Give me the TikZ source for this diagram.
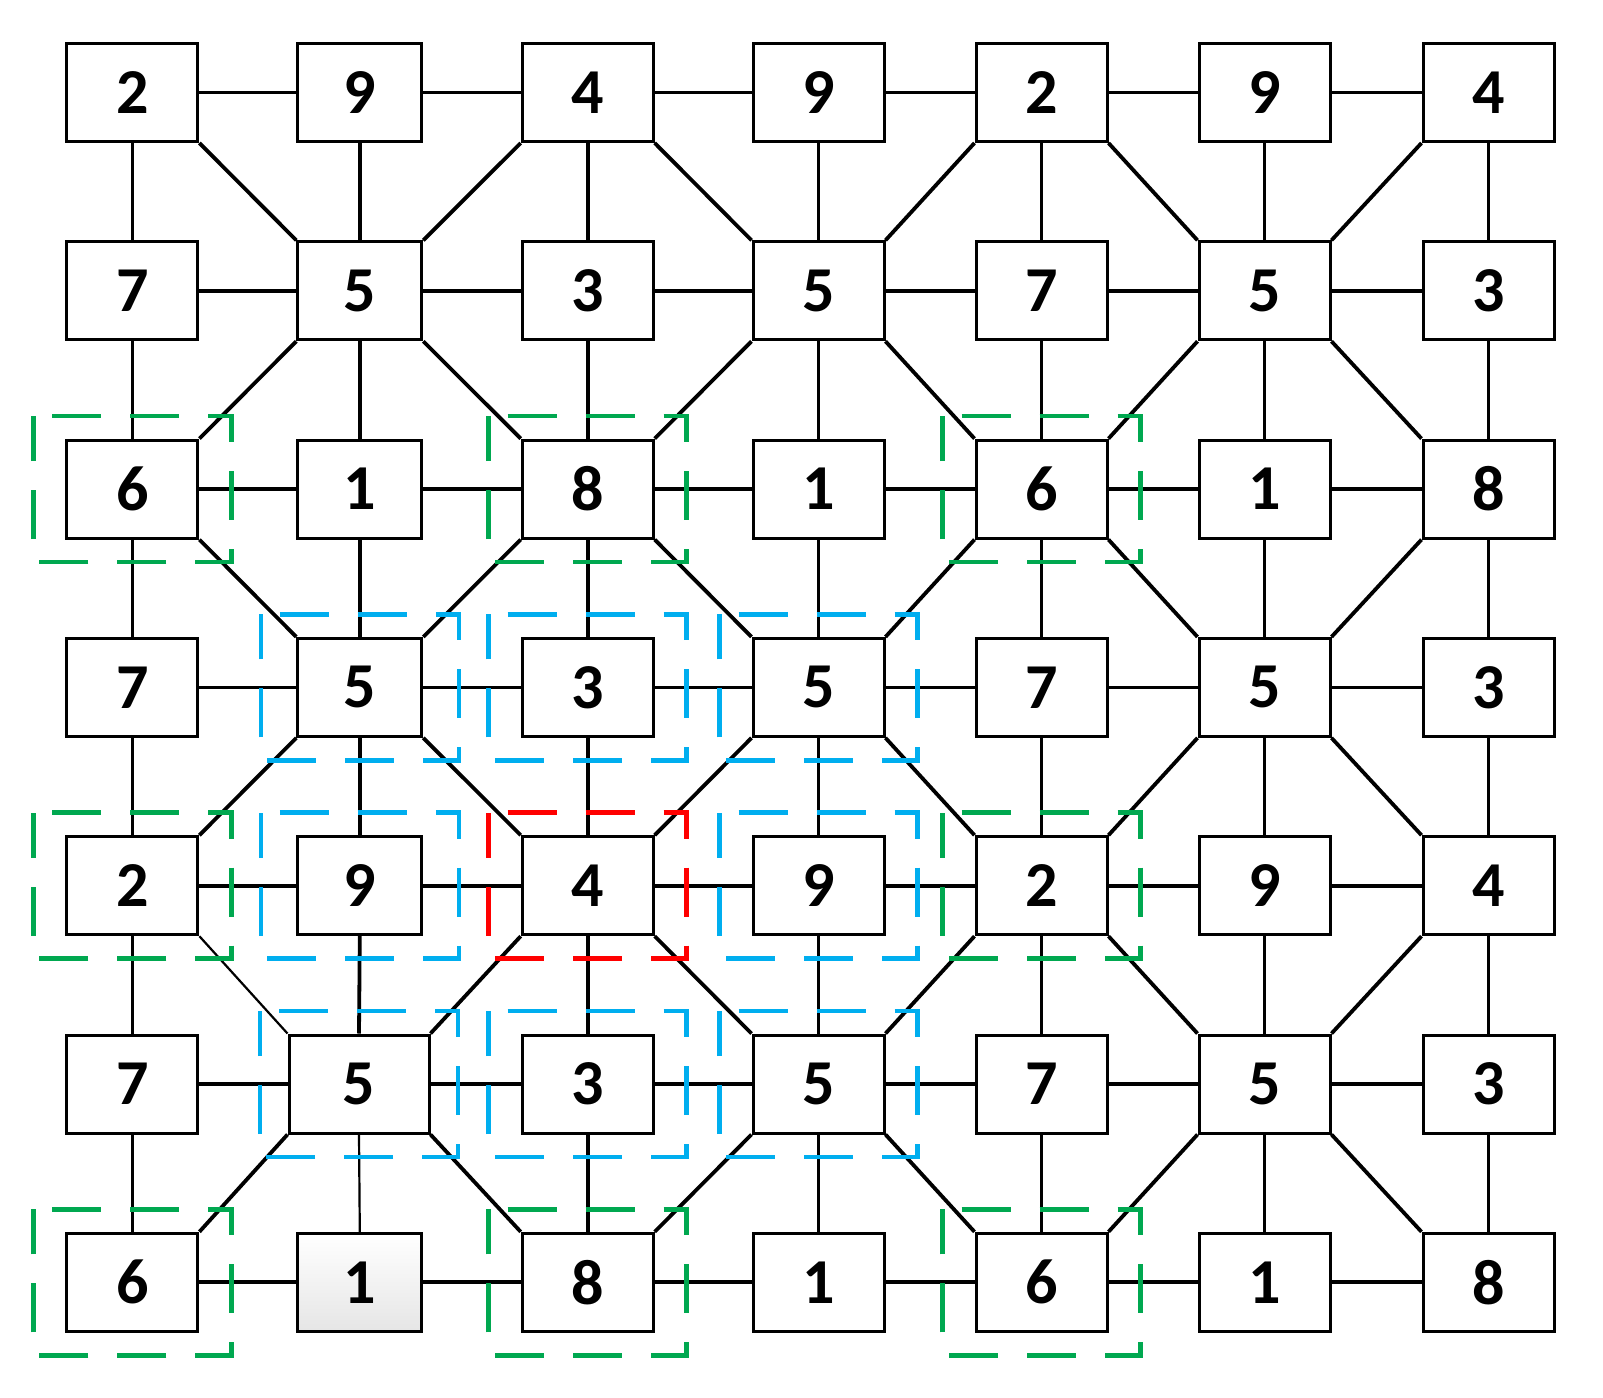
\documentclass[tikz,border=0pt]{standalone}
\usepackage{fontspec}
\setmainfont{Carlito}
\definecolor{gA}{RGB}{0,168,80}
\definecolor{bA}{RGB}{0,174,239}
\definecolor{rA}{RGB}{255,0,0}
\begin{document}
\begin{tikzpicture}[x=0.5pt,y=-0.5pt,
  cell/.style={draw=black,line width=1.5pt,fill=white,minimum width=65.5pt,minimum height=49pt,inner sep=0pt,font=\fontsize{32}{32}\selectfont\bfseries},
  narrow/.style={minimum width=62pt},
  wide/.style={minimum width=70pt},
  link/.style={line width=1.9pt,draw=black},
  thinlink/.style={line width=1.1pt,draw=black},
  hl/.style={line width=2.3pt,dash pattern=on 24.5pt off 14.5pt,dash phase=29.5pt},
  grp/.style={hl,draw=gA},
  blu/.style={hl,draw=bA},
  red/.style={hl,draw=rA}]
\useasboundingbox (0,0) rectangle (1603,1398);
\fill[white] (0,0) rectangle (1603,1398);

% row 1
\node[cell] (n-1-1) at (132.4,92.5) {2};
\node[cell,narrow] (n-1-2) at (359.8,92.5) {9};
\node[cell] (n-1-3) at (587.7,92.5) {4};
\node[cell] (n-1-4) at (818.5,92.5) {9};
\node[cell] (n-1-5) at (1041.5,92.5) {2};
\node[cell] (n-1-6) at (1264.5,92.5) {9};
\node[cell] (n-1-7) at (1488.5,92.5) {4};
% row 2
\node[cell] (n-2-1) at (132.4,290.8) {7};
\node[cell,narrow] (n-2-2) at (359.8,290.8) {5};
\node[cell] (n-2-3) at (587.7,290.8) {3};
\node[cell] (n-2-4) at (818.5,290.8) {5};
\node[cell] (n-2-5) at (1041.5,290.8) {7};
\node[cell] (n-2-6) at (1264.5,290.8) {5};
\node[cell] (n-2-7) at (1488.5,290.8) {3};
% row 3
\node[cell] (n-3-1) at (132.4,489.1) {6};
\node[cell,narrow] (n-3-2) at (359.8,489.1) {1};
\node[cell] (n-3-3) at (587.7,489.1) {8};
\node[cell] (n-3-4) at (818.5,489.1) {1};
\node[cell] (n-3-5) at (1041.5,489.1) {6};
\node[cell] (n-3-6) at (1264.5,489.1) {1};
\node[cell] (n-3-7) at (1488.5,489.1) {8};
% row 4
\node[cell] (n-4-1) at (132.4,687.4) {7};
\node[cell,narrow] (n-4-2) at (359.8,687.4) {5};
\node[cell] (n-4-3) at (587.7,687.4) {3};
\node[cell] (n-4-4) at (818.5,687.4) {5};
\node[cell] (n-4-5) at (1041.5,687.4) {7};
\node[cell] (n-4-6) at (1264.5,687.4) {5};
\node[cell] (n-4-7) at (1488.5,687.4) {3};
% row 5
\node[cell] (n-5-1) at (132.4,885.7) {2};
\node[cell,narrow] (n-5-2) at (359.8,885.7) {9};
\node[cell] (n-5-3) at (587.7,885.7) {4};
\node[cell] (n-5-4) at (818.5,885.7) {9};
\node[cell] (n-5-5) at (1041.5,885.7) {2};
\node[cell] (n-5-6) at (1264.5,885.7) {9};
\node[cell] (n-5-7) at (1488.5,885.7) {4};
% row 6
\node[cell] (n-6-1) at (132.4,1084) {7};
\node[cell,wide] (n-6-2) at (359,1084) {5};
\node[cell] (n-6-3) at (587.7,1084) {3};
\node[cell] (n-6-4) at (818.5,1084) {5};
\node[cell] (n-6-5) at (1041.5,1084) {7};
\node[cell] (n-6-6) at (1264.5,1084) {5};
\node[cell] (n-6-7) at (1488.5,1084) {3};
% row 7
\node[cell] (n-7-1) at (132.4,1282.3) {6};
\node[cell,narrow,top color=white,bottom color=black!10] (n-7-2) at (359.8,1282.3) {1};
\node[cell] (n-7-3) at (587.7,1282.3) {8};
\node[cell] (n-7-4) at (818.5,1282.3) {1};
\node[cell] (n-7-5) at (1041.5,1282.3) {6};
\node[cell] (n-7-6) at (1264.5,1282.3) {1};
\node[cell] (n-7-7) at (1488.5,1282.3) {8};

% horizontal connectors
\foreach \r in {1,...,7}{
  \foreach \c [evaluate=\c as \n using int(\c+1)] in {1,...,6}{
    \draw[link] (n-\r-\c.east) -- (n-\r-\n.west);
  }
}

% vertical connectors
\foreach \c in {1,...,7}{
  \foreach \r [evaluate=\r as \n using int(\r+1)] in {1,...,6}{
    \ifnum\c=2 \ifnum\r=6 \def\lsty{thinlink}\else\def\lsty{link}\fi\else\def\lsty{link}\fi
    \draw[\lsty] (n-\r-\c.south) -- (n-\n-\c.north);
  }
}

% diagonal connectors around the 5-nodes
\foreach \r in {2,4,6}{
  \foreach \c in {2,4,6}{
    \pgfmathtruncatemacro\ru{\r-1}
    \pgfmathtruncatemacro\rd{\r+1}
    \pgfmathtruncatemacro\cl{\c-1}
    \pgfmathtruncatemacro\cr{\c+1}
    \ifnum\c=2 \ifnum\r=6 \def\lsty{thinlink}\else\def\lsty{link}\fi\else\def\lsty{link}\fi
    \draw[\lsty] (n-\ru-\cl.south east) -- (n-\r-\c.north west);
    \draw[link] (n-\ru-\cr.south west) -- (n-\r-\c.north east);
    \draw[link] (n-\r-\c.south west) -- (n-\rd-\cl.north east);
    \draw[link] (n-\r-\c.south east) -- (n-\rd-\cr.north west);
  }
}

% dashed highlight frames
\foreach \r/\c in {3/1,3/3,3/5,5/1,5/5,7/1,7/3,7/5}{
  \draw[grp,shift={(n-\r-\c.center)}] (-99,-73) -- (99,-73) -- (99,73) -- (-99,73) -- cycle;
}
\foreach \r/\c in {4/2,4/3,4/4,5/2,5/4,6/2,6/3,6/4}{
  \draw[blu,shift={(n-\r-\c.center)}] (-99,-73) -- (99,-73) -- (99,73) -- (-99,73) -- cycle;
}
\draw[red,shift={(n-5-3.center)}] (-99,-73) -- (99,-73) -- (99,73) -- (-99,73) -- cycle;
\end{tikzpicture}
\end{document}
